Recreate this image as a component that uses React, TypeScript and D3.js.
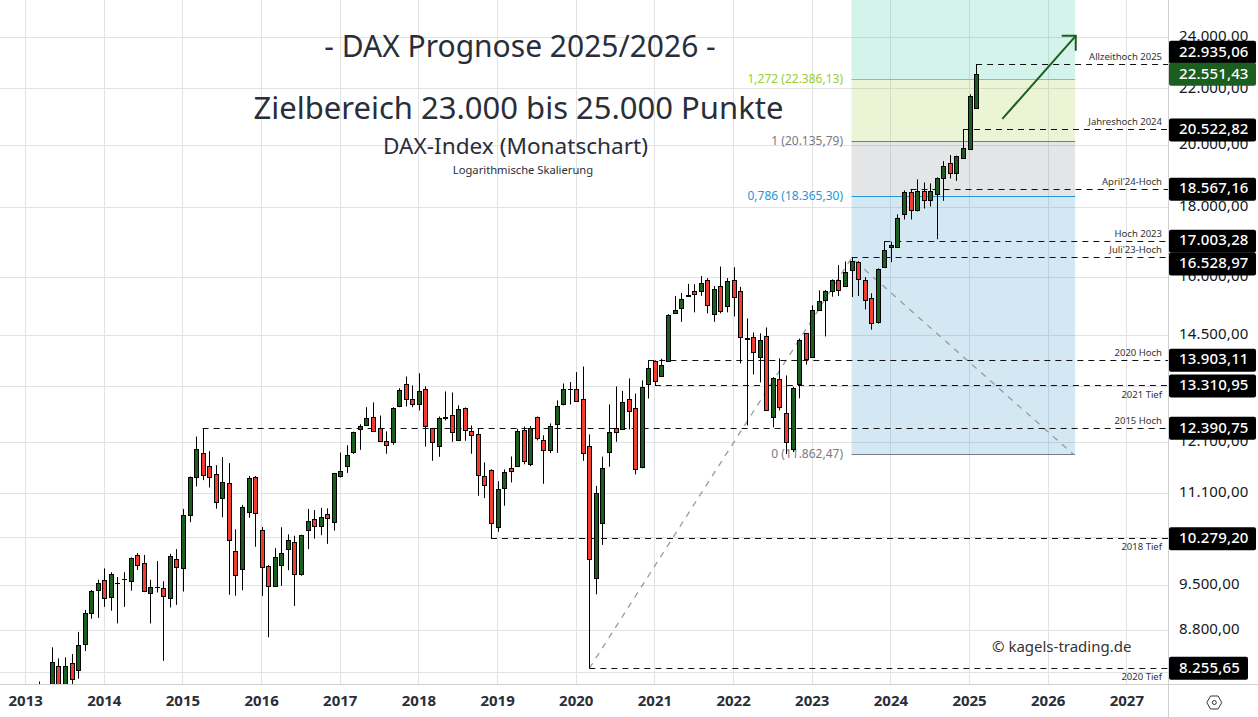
import React from 'react';
import * as d3 from 'd3';

// DAX monthly candles, first one is March 2013 (rows are calendar years)
const opens = [
  7742, 7795, 7914, 8292, 7960, 8326, 8228, 8605, 9060, 9420,
  9590, 9320, 9545, 9600, 9567, 10000, 9860, 9370, 9480, 9450, 9306, 9925,
  9790, 10700, 11405, 11890, 11630, 11470, 11010, 11290, 10070, 9760, 10747, 11410,
  10440, 9820, 9490, 9830, 10100, 10230, 9690, 10430, 10620, 10500, 10720, 10570,
  11430, 11628, 11907, 12366, 12465, 12620, 12387, 12130, 12098, 12857, 13345, 13030,
  12900, 13232, 12387, 12020, 12620, 12670, 12140, 12813, 12325, 12263, 11420, 11538,
  10478, 11192, 11578, 11618, 12346, 11658, 12620, 12140, 11935, 12472, 12900, 13245,
  13235, 13030, 12015, 9613, 10549, 11895, 12387, 12367, 13030, 12813, 11597, 13365,
  13875, 13538, 13880, 15050, 15178, 15510, 15630, 15630, 15935, 15025, 15750, 15230,
  15935, 15630, 14430, 14449, 13990, 14473, 12620, 13458, 12705, 11955, 13347, 14548,
  13990, 15125, 15382, 15630, 15935, 15770, 16192, 16420, 15935, 15435, 14835, 16290,
  16830, 16830, 17790, 18480, 17912, 18500, 18235, 18405, 18908, 19400, 19070, 19570,
  19870, 21300,
];
const highs = [
  8074, 7950, 8554, 8396, 8410, 8456, 8780, 9112, 9424, 9590,
  9776, 9712, 9634, 9712, 9960, 10033, 10000, 9590, 9897, 9565, 10020, 10100,
  10810, 11420, 12219, 12390.75, 11920, 11640, 11802, 11680, 10445, 10885, 11430, 11430,
  10485, 9830, 10116, 10480, 10355, 10330, 10350, 10810, 10790, 10830, 10820, 11490,
  11890, 12040, 12320, 12476, 12840, 12945, 12660, 12325, 12840, 13260, 13525, 13323,
  13600, 13300, 12400, 12640, 13188, 13165, 12880, 12835, 12450, 12387, 11696, 11560,
  11330, 11558, 11814, 12380, 12427, 12438, 12640, 12244, 12493, 12990, 13365, 13400,
  13625, 13755, 12263, 11240, 11810, 12900, 13300, 13200, 13480, 13140, 13435, 13903.11,
  13900, 13936, 15030, 15500, 15580, 15820, 15810, 16030, 15975, 15760, 16290, 15975,
  16270, 15740, 14920, 14570, 14550, 14695, 13510, 13945, 13550, 13290, 14420, 14560,
  15255, 15645, 15653, 15940, 16330, 16427, 16528.97, 16440, 16000, 15570, 16240, 17003.28,
  16990, 17790, 18530, 18567.16, 18876, 18780, 18750, 18940, 19470, 19670, 19650, 20522.82,
  21800, 22935.06,
];
const lows = [
  7625, 7420, 7880, 7640, 7900, 7996, 8112, 8500, 8978, 8990,
  9160, 9100, 8907, 9160, 9414, 9750, 9400, 8907, 9385, 8360, 9150, 9190,
  9400, 10570, 11230, 11350, 11210, 10815, 10660, 9350, 9335, 9420, 10650, 10140,
  9330, 8700, 9490, 9490, 9745, 9175, 9655, 10100, 10280, 10340, 10190, 10420,
  11400, 11490, 11865, 11947, 12435, 12320, 12110, 11868, 12050, 12840, 12857, 12840,
  12770, 12010, 11727, 11807, 12557, 12111, 12130, 12130, 11868, 11053, 11010, 10279.2,
  10400, 10868, 11305, 11610, 11658, 11620, 12140, 11280, 11880, 11887, 12880, 12900,
  12970, 11727, 8255.65, 9356, 10173, 11610, 12111, 12360, 12367, 11460, 11580, 13030,
  13310.95, 13515, 13870, 15040, 14835, 15500, 15075, 15500, 15050, 14835, 15050, 15075,
  14970, 13827, 12450, 13572, 13390, 12770, 12410, 12770, 11862.47, 11900, 13035, 13800,
  13980, 15120, 14473, 15480, 15500, 15760, 15470, 15500, 15150, 14640, 14790, 16280,
  16410, 16820, 17640, 17640, 17880, 17970, 18030, 17060, 18205, 18908, 18830, 19560,
  19836, 21290,
];
const closes = [
  7795, 7914, 8348, 7959, 8284, 8103, 8594, 9060, 9405, 9540,
  9306, 9680, 9540, 9596, 9943, 9825, 9407, 9470, 9474, 9326, 9980, 9806,
  10694, 11402, 11966, 11454, 11413, 10945, 11309, 10259, 9660, 10850, 11382, 10743,
  9798, 9495, 9966, 10040, 10262, 9680, 10337, 10592, 10511, 10665, 10640, 11481,
  11535, 11834, 12313, 12438, 12615, 12325, 12118, 12055, 12829, 13229, 13023, 12918,
  13189, 12436, 12097, 12612, 12605, 12306, 12806, 12364, 12247, 11447, 11257, 10559,
  11173, 11516, 11526, 12344, 11727, 12399, 12189, 11939, 12428, 12867, 13236, 13249,
  12982, 11890, 9936, 11107, 11587, 12311, 12313, 12945, 12761, 11556, 13291, 13719,
  13432, 13786, 15008, 15136, 15421, 15531, 15544, 15835, 15261, 15688, 15100, 15885,
  15471, 14461, 14414, 14098, 14388, 12784, 13484, 12835, 12114, 13254, 14397, 13923,
  15128, 15365, 15629, 15920, 15664, 16148, 16447, 15947, 15387, 14810, 16215, 16752,
  16885, 17678, 18492, 17932, 18498, 18235, 18509, 18907, 19325, 19078, 19626, 19909,
  21732, 22551.43,
];

const yearLabels = [2013, 2014, 2015, 2016, 2017, 2018, 2019, 2020, 2021, 2022, 2023, 2024, 2025, 2026, 2027];
const gridPrices = [8200, 8800, 9500, 10300, 11100, 12100, 13300, 14500, 16000, 18000, 20000, 22000, 24000];
const tickLabelPrices = [8800, 9500, 11100, 12100, 14500, 16000, 18000, 20000, 22000, 24000]; // the others sit fully under a tag

const levelPrices = [22935.06, 20522.82, 18567.16, 17003.28, 16528.97, 13903.11, 13310.95, 12390.75, 10279.2, 8255.65];
const levelNames = ['Allzeithoch 2025', 'Jahreshoch 2024', "April'24-Hoch", 'Hoch 2023', "Juli'23-Hoch", '2020 Hoch', '2021 Tief', '2015 Hoch', '2018 Tief', '2020 Tief'];
const levelStarts = [143, 141, 133, 129, 124, 93, 94, 25, 69, 84]; // month index of the candle the line starts from

const fibPrices = [22386.13, 20135.79, 18365.3, 11862.47];
const fibNames = ['1,272', '1', '0,786', '0'];
const fibColors = ['#9ccc32', '#787b86', '#2896d8', '#787b86'];
const fibFills = ['#26c69a', '#9ccc32', '#787b86', '#288cc8'];

const lastPrice = 22551.43;

const WIDTH = 1258;
const HEIGHT = 717;
const AXIS_X = 1168.5;
const AXIS_Y = 684.5;
const FONT = '"Noto Sans", sans-serif';

const x = d3.scaleLinear().domain([0, 143]).range([38.75, 976.1]);
const y = d3.scaleLog().domain([8255.65, 22935.06]).range([668.3, 64.3]);

const de = d3.formatLocale({ decimal: ',', thousands: '.', grouping: [3], currency: ['', ''] });
const fmt = de.format(',.2f');
const snap = (v: number) => Math.round(v - 0.5) + 0.5;

// the axis pushes these two tags apart so they stay readable
const tagShift = (price: number) => (price === 22935.06 ? -12 : price === 16528.97 ? 6 : 0);

const hexagon = d3.lineRadial<number>()
  .angle(k => Math.PI / 2 + (k * Math.PI) / 3)
  .radius(7.5)
  .curve(d3.curveLinearClosed)([0, 1, 2, 3, 4, 5]) as string;

const Tag = ({ price, fill, wide = true }: { price: number; fill: string; wide?: boolean }) => {
  const cy = y(price) + tagShift(price);
  return (
    <g>
      <rect x={AXIS_X + 0.5} y={cy - 11.5} width={wide ? 87 : 79} height={23} rx={2} fill={fill} />
      <text x={1179} y={cy - 1} dy="0.35em" fill="#fff" fontSize={15} letterSpacing={0.15} fontWeight={500} fontFamily={FONT}>{fmt(price)}</text>
    </g>
  );
};

const App = () => {
  const fibLeft = x(124);
  const fibRight = x(158.1);
  const fibY = fibPrices.map(p => Math.round(y(p)) + 0.5);
  const fibTops = [0, fibY[0], fibY[1], fibY[2]];

  const trend = d3.line<[number, number]>()
    .x(d => x(d[0]))
    .y(d => y(d[1]))([[84, 8255.65], [124, 16528.97], [157.8, 11862.47]]) as string;

  const ax1 = x(147);
  const ay1 = y(20913);
  const ax2 = x(158.2);
  const ay2 = y(24065);

  return (
    <svg width={WIDTH} height={HEIGHT} style={{ position: 'absolute', left: 0, top: 0, display: 'block', background: '#fff' }}>
      <defs>
        <clipPath id="plot"><rect x={0} y={0} width={AXIS_X} height={AXIS_Y} /></clipPath>
      </defs>

      {/* grid */}
      <g stroke="#e2e2e5" strokeWidth={1}>
        {yearLabels.map(year => {
          const gx = snap(x((year - 2014) * 12 + 10));
          return <line key={year} x1={gx} x2={gx} y1={0} y2={AXIS_Y} />;
        })}
        {gridPrices.map(p => <line key={p} x1={0} x2={AXIS_X} y1={snap(y(p))} y2={snap(y(p))} />)}
      </g>

      {/* fibonacci zones */}
      {fibPrices.map((p, i) => (
        <rect key={p} x={fibLeft} y={fibTops[i]} width={fibRight - fibLeft} height={fibY[i] - fibTops[i]} fill={fibFills[i]} opacity={0.2} />
      ))}
      {fibPrices.map((p, i) => (
        <g key={p}>
          <line x1={fibLeft} x2={fibRight} y1={fibY[i]} y2={fibY[i]} stroke={fibColors[i]} strokeWidth={1} />
          <text x={843} y={y(p)} dy="0.35em" textAnchor="end" fontSize={12} fontFamily={FONT} fill={fibColors[i]}>
            {fibNames[i]} ({fmt(p)})
          </text>
        </g>
      ))}
      <path d={trend} fill="none" stroke="#9a9a9a" strokeWidth={1.3} strokeDasharray="6,6" />

      {/* level lines */}
      <g clipPath="url(#plot)">
        {levelPrices.map((p, i) => (
          <g key={p}>
            <line x1={x(levelStarts[i])} x2={AXIS_X} y1={snap(y(p))} y2={snap(y(p))} stroke="#111" strokeWidth={1} strokeDasharray="6,5" />
            <text x={1162} y={y(p) + (levelNames[i].includes('Tief') ? 8.4 : -8)} dy="0.35em" textAnchor="end" fontSize={9.5} fontFamily={FONT} fill="#333">
              {levelNames[i]}
            </text>
          </g>
        ))}
      </g>

      {/* candles */}
      <g clipPath="url(#plot)">
        {closes.map((c, i) => {
          const cx = Math.round(x(i));
          const o = opens[i];
          const top = Math.round(y(Math.max(o, c)));
          const bottom = Math.round(y(Math.min(o, c)));
          return (
            <g key={i}>
              <line x1={cx + 0.5} x2={cx + 0.5} y1={y(highs[i])} y2={y(lows[i])} stroke="#000" strokeWidth={1} />
              <rect
                x={cx - 1.5}
                y={top + 0.5}
                width={4}
                height={Math.max(bottom - top, 0.01)}
                fill={c >= o ? '#1b5e20' : '#f23c30'}
                stroke="#000"
                strokeWidth={1}
              />
            </g>
          );
        })}
      </g>

      {/* headings */}
      <g fontFamily={FONT} fill="#2a2e39" textAnchor="middle">
        <text x={520} y={46} dy="0.35em" fontSize={30}>- DAX Prognose 2025/2026 -</text>
        <text x={518.5} y={108} dy="0.35em" fontSize={31}>Zielbereich 23.000 bis 25.000 Punkte</text>
        <text x={515.5} y={146} dy="0.35em" fontSize={22.6}>DAX-Index (Monatschart)</text>
        <text x={523} y={170} dy="0.35em" fontSize={11.2}>Logarithmische Skalierung</text>
      </g>
      <text x={992} y={647} dy="0.35em" fontSize={15} fontFamily={FONT} fill="#333">© kagels-trading.de</text>

      {/* target arrow */}
      <g stroke="#1b5e20" strokeWidth={2} fill="none">
        <line x1={ax1} y1={ay1} x2={ax2} y2={ay2} />
        <polyline points={`${ax2 - 14},${ay2} ${ax2},${ay2} ${ax2},${ay2 + 15}`} />
      </g>

      {/* axes */}
      <rect x={AXIS_X} y={0} width={WIDTH - AXIS_X} height={HEIGHT} fill="#fff" />
      <rect x={0} y={AXIS_Y} width={WIDTH} height={HEIGHT - AXIS_Y} fill="#fff" />
      <line x1={AXIS_X} x2={AXIS_X} y1={0} y2={HEIGHT} stroke="#d0d0d3" />
      <line x1={0} x2={WIDTH} y1={AXIS_Y} y2={AXIS_Y} stroke="#d0d0d3" />
      {tickLabelPrices.map(p => (
        <text key={p} x={1179} y={y(p) - 1.5} dy="0.35em" fontSize={15} letterSpacing={0.15} fontFamily={FONT} fill="#131722">{fmt(p)}</text>
      ))}
      {yearLabels.map(year => (
        <text key={year} x={x((year - 2014) * 12 + 10)} y={700.5} dy="0.35em" textAnchor="middle" fontSize={15} fontWeight={700} fontFamily={FONT} fill="#2a2e39">
          {year}
        </text>
      ))}
      <g transform="translate(1214.3,702.5)" fill="none" stroke="#333" strokeWidth={1}>
        <path d={hexagon} />
        <circle r={2} />
      </g>

      {/* price tags */}
      {levelPrices.map(p => <Tag key={p} price={p} fill="#000" wide={p > 10000} />)}
      <Tag price={lastPrice} fill="#1b5e20" />
    </svg>
  );
};

export default App;
